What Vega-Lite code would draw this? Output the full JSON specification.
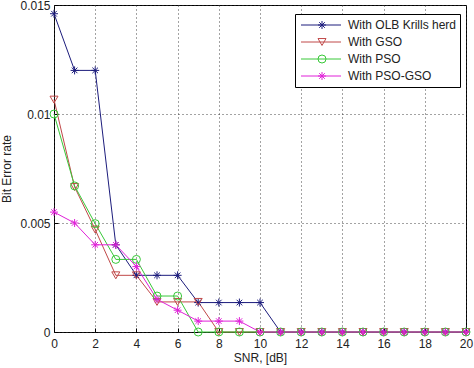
{
  "$schema": "https://vega.github.io/schema/vega-lite/v6.json",
  "autosize": "none",
  "width": 412,
  "height": 327,
  "padding": {"left": 54, "top": 5, "right": 8, "bottom": 36},
  "background": "white",
  "config": {
    "font": "Liberation Sans",
    "view": {"stroke": "black", "strokeWidth": 1},
    "axis": {
      "labelFont": "Liberation Sans",
      "titleFont": "Liberation Sans",
      "labelFontSize": 12,
      "titleFontSize": 12,
      "titleFontWeight": "normal",
      "labelColor": "#222",
      "titleColor": "#222",
      "domain": false,
      "tickSize": -4,
      "tickColor": "black",
      "grid": true,
      "gridColor": "#333",
      "gridDash": [1, 3],
      "gridOpacity": 0.9
    },
    "legend": {
      "orient": "none",
      "padding": 5,
      "rowPadding": 5,
      "labelFont": "Liberation Sans",
      "labelFontSize": 12,
      "labelColor": "#222",
      "symbolStrokeWidth": 1
    }
  },
  "data": {
    "values": [
      {"series": "With OLB Krills herd", "snr": 0, "ber": 0.0146},
      {"series": "With OLB Krills herd", "snr": 1, "ber": 0.012},
      {"series": "With OLB Krills herd", "snr": 2, "ber": 0.012},
      {"series": "With OLB Krills herd", "snr": 3, "ber": 0.004},
      {"series": "With OLB Krills herd", "snr": 4, "ber": 0.0026},
      {"series": "With OLB Krills herd", "snr": 5, "ber": 0.0026},
      {"series": "With OLB Krills herd", "snr": 6, "ber": 0.0026},
      {"series": "With OLB Krills herd", "snr": 7, "ber": 0.00135},
      {"series": "With OLB Krills herd", "snr": 8, "ber": 0.00135},
      {"series": "With OLB Krills herd", "snr": 9, "ber": 0.00135},
      {"series": "With OLB Krills herd", "snr": 10, "ber": 0.00135},
      {"series": "With OLB Krills herd", "snr": 11, "ber": 0},
      {"series": "With OLB Krills herd", "snr": 12, "ber": 0},
      {"series": "With OLB Krills herd", "snr": 13, "ber": 0},
      {"series": "With OLB Krills herd", "snr": 14, "ber": 0},
      {"series": "With OLB Krills herd", "snr": 15, "ber": 0},
      {"series": "With OLB Krills herd", "snr": 16, "ber": 0},
      {"series": "With OLB Krills herd", "snr": 17, "ber": 0},
      {"series": "With OLB Krills herd", "snr": 18, "ber": 0},
      {"series": "With OLB Krills herd", "snr": 19, "ber": 0},
      {"series": "With OLB Krills herd", "snr": 20, "ber": 0},
      {"series": "With GSO", "snr": 0, "ber": 0.01066},
      {"series": "With GSO", "snr": 1, "ber": 0.00665},
      {"series": "With GSO", "snr": 2, "ber": 0.0047},
      {"series": "With GSO", "snr": 3, "ber": 0.0026},
      {"series": "With GSO", "snr": 4, "ber": 0.0026},
      {"series": "With GSO", "snr": 5, "ber": 0.00138},
      {"series": "With GSO", "snr": 6, "ber": 0.00138},
      {"series": "With GSO", "snr": 7, "ber": 0.00138},
      {"series": "With GSO", "snr": 8, "ber": 0},
      {"series": "With GSO", "snr": 9, "ber": 0},
      {"series": "With GSO", "snr": 10, "ber": 0},
      {"series": "With GSO", "snr": 11, "ber": 0},
      {"series": "With GSO", "snr": 12, "ber": 0},
      {"series": "With GSO", "snr": 13, "ber": 0},
      {"series": "With GSO", "snr": 14, "ber": 0},
      {"series": "With GSO", "snr": 15, "ber": 0},
      {"series": "With GSO", "snr": 16, "ber": 0},
      {"series": "With GSO", "snr": 17, "ber": 0},
      {"series": "With GSO", "snr": 18, "ber": 0},
      {"series": "With GSO", "snr": 19, "ber": 0},
      {"series": "With GSO", "snr": 20, "ber": 0},
      {"series": "With PSO", "snr": 0, "ber": 0.01},
      {"series": "With PSO", "snr": 1, "ber": 0.0067},
      {"series": "With PSO", "snr": 2, "ber": 0.00497},
      {"series": "With PSO", "snr": 3, "ber": 0.00333},
      {"series": "With PSO", "snr": 4, "ber": 0.00333},
      {"series": "With PSO", "snr": 5, "ber": 0.00165},
      {"series": "With PSO", "snr": 6, "ber": 0.00165},
      {"series": "With PSO", "snr": 7, "ber": 0},
      {"series": "With PSO", "snr": 8, "ber": 0},
      {"series": "With PSO", "snr": 9, "ber": 0},
      {"series": "With PSO", "snr": 10, "ber": 0},
      {"series": "With PSO", "snr": 11, "ber": 0},
      {"series": "With PSO", "snr": 12, "ber": 0},
      {"series": "With PSO", "snr": 13, "ber": 0},
      {"series": "With PSO", "snr": 14, "ber": 0},
      {"series": "With PSO", "snr": 15, "ber": 0},
      {"series": "With PSO", "snr": 16, "ber": 0},
      {"series": "With PSO", "snr": 17, "ber": 0},
      {"series": "With PSO", "snr": 18, "ber": 0},
      {"series": "With PSO", "snr": 19, "ber": 0},
      {"series": "With PSO", "snr": 20, "ber": 0},
      {"series": "With PSO-GSO", "snr": 0, "ber": 0.0055},
      {"series": "With PSO-GSO", "snr": 1, "ber": 0.005},
      {"series": "With PSO-GSO", "snr": 2, "ber": 0.004},
      {"series": "With PSO-GSO", "snr": 3, "ber": 0.004},
      {"series": "With PSO-GSO", "snr": 4, "ber": 0.003},
      {"series": "With PSO-GSO", "snr": 5, "ber": 0.0015},
      {"series": "With PSO-GSO", "snr": 6, "ber": 0.001},
      {"series": "With PSO-GSO", "snr": 7, "ber": 0.0005},
      {"series": "With PSO-GSO", "snr": 8, "ber": 0.0005},
      {"series": "With PSO-GSO", "snr": 9, "ber": 0.0005},
      {"series": "With PSO-GSO", "snr": 10, "ber": 0},
      {"series": "With PSO-GSO", "snr": 11, "ber": 0},
      {"series": "With PSO-GSO", "snr": 12, "ber": 0},
      {"series": "With PSO-GSO", "snr": 13, "ber": 0},
      {"series": "With PSO-GSO", "snr": 14, "ber": 0},
      {"series": "With PSO-GSO", "snr": 15, "ber": 0},
      {"series": "With PSO-GSO", "snr": 16, "ber": 0},
      {"series": "With PSO-GSO", "snr": 17, "ber": 0},
      {"series": "With PSO-GSO", "snr": 18, "ber": 0},
      {"series": "With PSO-GSO", "snr": 19, "ber": 0},
      {"series": "With PSO-GSO", "snr": 20, "ber": 0}
    ]
  },
  "encoding": {
    "x": {
      "field": "snr", "type": "quantitative",
      "scale": {"domain": [0, 20], "nice": false},
      "axis": {"title": "SNR, [dB]", "values": [0, 2, 4, 6, 8, 10, 12, 14, 16, 18, 20], "labelPadding": 10, "titlePadding": 3, "labelFlush": false}
    },
    "y": {
      "field": "ber", "type": "quantitative",
      "scale": {"domain": [0, 0.015], "nice": false},
      "axis": {"title": "Bit Error rate", "values": [0, 0.005, 0.01, 0.015], "format": ".3~f", "labelPadding": 8, "titlePadding": 6, "labelFlush": false}
    }
  },
  "layer": [
    {
      "transform": [{"calculate": "datum.series + ' '", "as": "method"}],
      "mark": {"type": "line", "strokeWidth": 1},
      "encoding": {
        "stroke": {
          "field": "method", "type": "nominal",
          "scale": {
            "domain": ["With OLB Krills herd ", "With GSO ", "With PSO ", "With PSO-GSO "],
            "range": ["#1c1c7c", "#c04848", "#38c838", "#e020d8"]
          },
          "legend": {
            "title": null,
            "legendX": 241,
            "legendY": 9,
            "fillColor": "white",
            "strokeColor": "black",
            "symbolType": "M-1,0L7,0",
            "symbolSize": 100,
            "labelOffset": 34,
            "labelOpacity": 0,
            "zindex": 1
          }
        }
      }
    },
    {
      "mark": {"type": "point", "filled": false, "size": 64, "strokeWidth": 1, "opacity": 1},
      "encoding": {
        "color": {
          "field": "series", "type": "nominal",
          "scale": {
            "domain": ["With OLB Krills herd", "With GSO", "With PSO", "With PSO-GSO"],
            "range": ["#1c1c7c", "#c04848", "#38c838", "#e020d8"]
          },
          "legend": {
            "title": null,
            "legendX": 257,
            "legendY": 9,
            "symbolSize": 64,
            "labelOffset": 20,
            "zindex": 2
          }
        },
        "shape": {
          "field": "series", "type": "nominal",
          "scale": {
            "domain": ["With OLB Krills herd", "With GSO", "With PSO", "With PSO-GSO"],
            "range": [
              "M-1,0L1,0M0,-1L0,1M-0.7,-0.7L0.7,0.7M-0.7,0.7L0.7,-0.7",
              "triangle-down",
              "circle",
              "M-1,0L1,0M0,-1L0,1M-0.7,-0.7L0.7,0.7M-0.7,0.7L0.7,-0.7"
            ]
          },
          "legend": {
            "title": null,
            "legendX": 257,
            "legendY": 9,
            "symbolSize": 64,
            "labelOffset": 20,
            "zindex": 2
          }
        }
      }
    }
  ]
}
